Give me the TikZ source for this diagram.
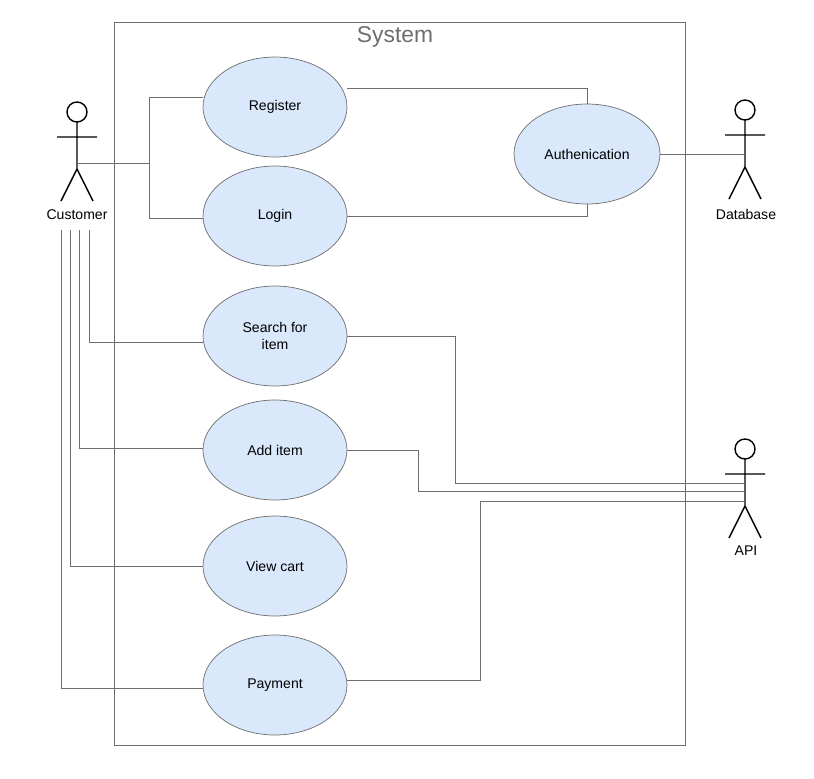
\documentclass[tikz,border=0pt]{standalone}
\usepackage{fontspec}
\setmainfont{Liberation Sans}
\usetikzlibrary{shapes.geometric}
\definecolor{ucfill}{HTML}{DAE8FC}
\definecolor{ucline}{HTML}{6E6E6E}
\tikzset{
  usecase/.style={ellipse, draw=ucline, fill=ucfill, minimum width=2.88cm, minimum height=2cm, align=center, font=\fontsize{8}{9.5}\selectfont},
  wire/.style={draw=ucline, line width=0.5pt},
  actorlbl/.style={font=\fontsize{8}{9.5}\selectfont}
}
\newcommand{\umlactor}[2]{% x, head y
  \draw[black, line width=0.8pt] (#1,#2) circle (10);
  \draw[black, line width=0.8pt] (#1,#2+10) -- (#1,#2+57) (#1-20,#2+25) -- (#1+20,#2+25)
     (#1-16,#2+89) -- (#1,#2+57) -- (#1+16,#2+89);
}
\begin{document}
\begin{tikzpicture}[x=0.02cm, y=-0.02cm]
            \useasboundingbox (0,0) rectangle (814,778);
            \draw[ucline] (114,22) rectangle (685,745);
            \node[text=ucline, font=\fontsize{13}{15}\selectfont] (title) at (395,37) {System};

            \node[usecase] (reg) at (275,107) {Register};
            \node[usecase] (login) at (275,216) {Login};
            \node[usecase] (search) at (275,336) {Search for\\item};
            \node[usecase] (add) at (275,450) {Add item};
            \node[usecase] (cart) at (275,566) {View cart};
            \node[usecase] (pay) at (275,685) {Payment};
            \node[usecase, minimum width=2.92cm] (auth) at (587,154) {Authenication};

            \umlactor{77}{112}
            \umlactor{745}{110}
            \umlactor{745}{449}
            \node[actorlbl] (cust) at (77,215) {Customer};
            \node[actorlbl] (db) at (746,214) {Database};
            \node[actorlbl] (api) at (746,551) {API};
            \coordinate (custbody) at (77,163);
            \coordinate (dbbody) at (745,154);
            \coordinate (apibody) at (745,490);

            % customer to use cases
            \draw[wire] (custbody) -- (149,163);
            \draw[wire] (reg.west |- 0,97) -- (149,97) -- (149,218) -- (login.west |- 0,218);
            \draw[wire] (89,230) |- (search.west |- 0,342);
            \draw[wire] (79,230) |- (add.west |- 0,448);
            \draw[wire] (70,230) |- (cart.west);
            \draw[wire] (61,230) |- (pay.west |- 0,688);

            % authentication
            \draw[wire] (reg.east |- 0,88) -- (587,88) -- (auth.north);
            \draw[wire] (login.east) -- (587,216) -- (auth.south);
            \draw[wire] (auth.east) -- (dbbody);

            % api
            \draw[wire] (search.east) -- (455,336) -- (455,483) -- (apibody |- 0,483);
            \draw[wire] (add.east) -- (418,450) -- (418,491) -- (apibody |- 0,491);
            \draw[wire] (pay.east |- 0,680) -- (480,680) -- (480,501) -- (apibody |- 0,501);
        \end{tikzpicture}
\end{document}
